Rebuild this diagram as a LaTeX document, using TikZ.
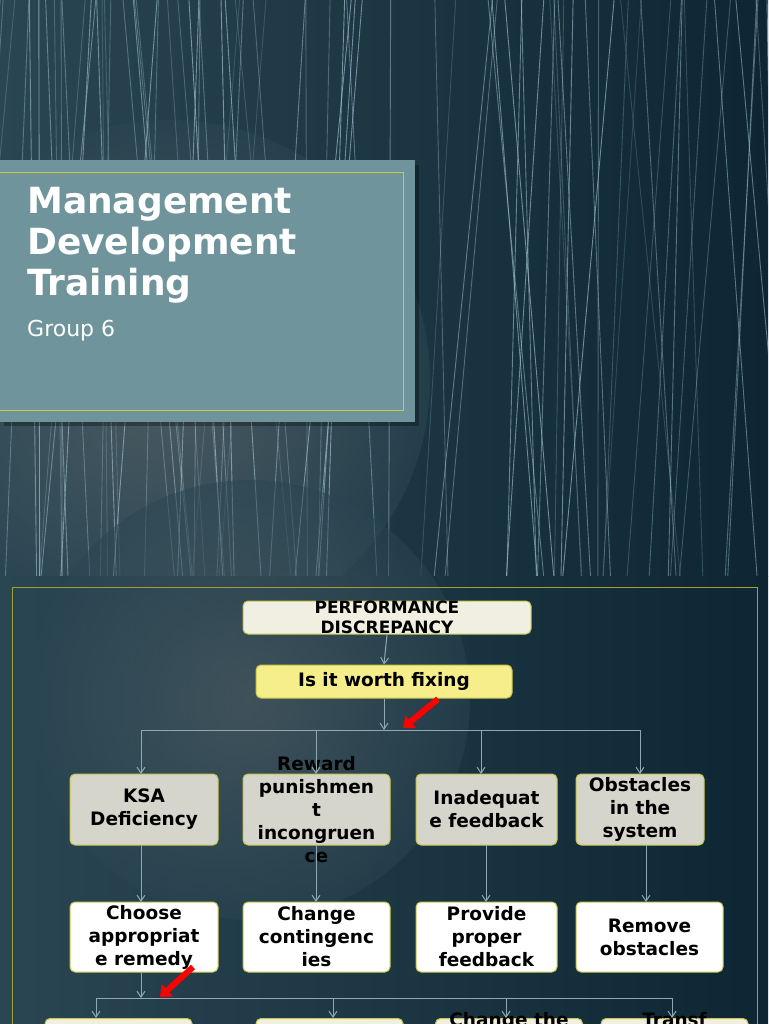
\documentclass[tikz,border=0pt]{standalone}
\usepackage{fontspec}
\setmainfont{DejaVu Sans}
\usetikzlibrary{arrows.meta}
\definecolor{bgA}{HTML}{2A4652}
\definecolor{bgB}{HTML}{0E2633}
\definecolor{panel}{HTML}{6F949C}
\definecolor{panelline}{HTML}{C8C84A}
\definecolor{cream}{HTML}{F1EFE2}
\definecolor{yel}{HTML}{F5EE8A}
\definecolor{grayb}{HTML}{D6D5CC}
\definecolor{conn}{HTML}{8FA9B3}
\tikzset{
  box/.style={draw=panelline, line width=1pt, rounded corners=5pt, inner sep=0pt},
  btext/.style={font=\bfseries\fontsize{18.5}{23}\selectfont, align=center, text=black, inner sep=0pt},
  conn/.style={draw=conn, line width=1pt},
  carr/.style={conn, -{Straight Barb[length=6pt,width=8pt]}},
  redarr/.style={draw=red, line width=6pt, -{Triangle[length=10pt,width=16pt]}}
}
\begin{document}
\begin{tikzpicture}[x=1pt,y=-1pt]
\useasboundingbox (0,0) rectangle (768,1024);
\clip (0,0) rectangle (768,1024);
% top slide background
\shade[left color=bgA, right color=bgB] (0,0) rectangle (768,576);
\shade[inner color=gray!70!bgA, outer color=bgA, opacity=0.6] (170,380) circle (260);
\pgfmathsetseed{7}
\foreach \i in {1,...,80}{
  \pgfmathsetmacro{\xa}{rnd*768}
  \pgfmathsetmacro{\xb}{\xa+(rnd-0.5)*120}
  \pgfmathsetmacro{\op}{0.2+rnd*0.5}
  \draw[white!60!cyan!60!gray, opacity=\op, line width=0.9pt] (\xa,0) -- (\xb,576);
}
\fill[black, opacity=0.3] (4,165) rectangle (419,426);
\fill[panel] (0,160) rectangle (415,422);
\draw[panelline, line width=1pt] (-2,173) rectangle (403,410);
\node[anchor=north west, align=left, text=white, font=\bfseries\fontsize{36}{41}\selectfont, inner sep=0pt] (title) at (27,187) {Management\\Development\\Training};
\node[anchor=north west, text=white, font=\fontsize{22}{25}\selectfont, inner sep=0pt] (grp) at (27,320) {Group 6};
% bottom slide
\shade[left color=bgA, right color=bgB] (0,576) rectangle (768,1024);
\shade[inner color=gray!60!bgA, outer color=bgA, opacity=0.5] (250,700) circle (220);
\draw[panelline!80!black, line width=0.8pt] (12,587) rectangle (757,1030);
% boxes
\node[box, fill=cream, minimum width=288, minimum height=33] (pd) at (387,617.5) {};
\node[btext, font=\bfseries\fontsize{17}{20}\selectfont] at (pd) {PERFORMANCE\\DISCREPANCY};
\node[box, fill=yel, minimum width=256, minimum height=33] (wf) at (384,681.5) {};
\node[btext] at (wf) {Is it worth fixing};
\foreach \n/\x/\w/\t in {ksa/144/148/{KSA\\Deficiency}, rew/316.5/147/{Reward\\punishmen\\t\\incongruen\\ce}, ina/486.5/141/{Inadequat\\e feedback}, obs/640/128/{Obstacles\\in the\\system}}{
  \node[box, fill=grayb, minimum width=\w, minimum height=71] (\n) at (\x,809.5) {};
  \node[btext] at (\n) {\t};
}
\foreach \n/\x/\w/\t in {cho/144/148/{Choose\\appropriat\\e remedy}, chg/316.5/147/{Change\\contingenc\\ies}, pro/486.5/141/{Provide\\proper\\feedback}, rem/649.5/147/{Remove\\obstacles}}{
  \node[box, fill=white, minimum width=\w, minimum height=70] (\n) at (\x,937) {};
  \node[btext] at (\n) {\t};
}
\foreach \n/\x/\t in {b1/118.5/{}, b2/329.5/{}, b3/509/{Change the}, b4/674.5/{Transf}}{
  \node[box, fill=cream, minimum width=147, minimum height=60, anchor=north] (\n) at (\x,1018) {};
  \node[btext, anchor=north] at (\x,1012) {\t};
}
% connectors
\coordinate (h1) at (141,730);
\coordinate (h2) at (640,730);
\draw[conn] (h1) -- (h2);
\draw[carr] (pd.south) -- (wf.north);
\draw[carr] (wf.south) -- (384,730);
\foreach \x/\n in {141/ksa,316/rew,481/ina,640/obs}{\draw[carr] (\x,730) -- (\x,774);}
\foreach \x in {141,316,486,646}{\draw[carr] (\x,845) -- (\x,902);}
\draw[conn] (96,998) -- (672,998);
\draw[carr] (141,972) -- (141,998);
\foreach \x in {96,333,506,672}{\draw[carr] (\x,998) -- (\x,1018);}
% red arrows
\draw[redarr] (438,699) -- (403,728);
\draw[redarr] (193,967) -- (160,997);
\end{tikzpicture}
\end{document}
